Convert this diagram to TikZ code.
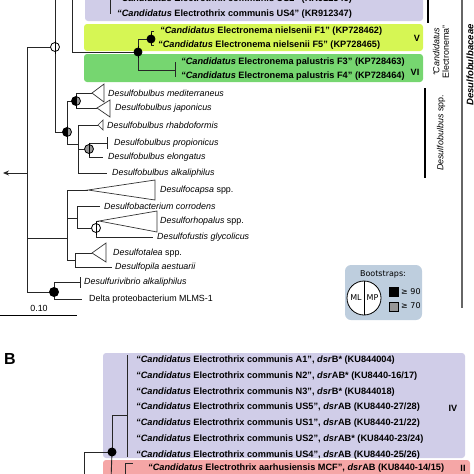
\documentclass[tikz,border=0pt]{standalone}
\usepackage{fontspec}
\setmainfont{Liberation Sans}
\newfontfamily\legendfont{DejaVu Sans}
\usetikzlibrary{arrows.meta}

\definecolor{elpurple}{RGB}{208,205,232}
\definecolor{nemaV}{RGB}{214,246,84}
\definecolor{nemaVI}{RGB}{118,214,112}
\definecolor{aarpink}{RGB}{245,166,166}
\definecolor{legblue}{RGB}{190,206,222}
\definecolor{bootgrey}{RGB}{150,150,150}

% split bootstrap circle: [radius]{coordinate}{ML fill}{MP fill}
\newcommand{\bootnode}[4][4.5]{%
  \fill[#3] (#2) -- ++(0,#1) arc[start angle=90,end angle=270,radius=#1] -- cycle;
  \fill[#4] (#2) -- ++(0,#1) arc[start angle=90,end angle=-90,radius=#1] -- cycle;
  \draw[line width=0.8pt] (#2) circle[radius=#1];
  \draw[line width=0.8pt] (#2) ++(0,-#1-2) -- ++(0,2*#1+4);
}
\newcommand{\cand}{\textit{“Candidatus}}

\begin{document}
\begin{tikzpicture}[x=1pt,y=-1pt,
    branch/.style={line width=0.9pt,draw=black!85},
    collapsed/.style={line width=0.7pt,draw=black!80},
    taxon/.style={anchor=west,inner sep=0pt,font=\fontsize{8.9}{10}\selectfont\itshape},
    strain/.style={anchor=west,inner sep=0pt,font=\fontsize{9.2}{10}\selectfont\bfseries},
    clade/.style={inner sep=0pt,font=\fontsize{9.1}{10}\selectfont\bfseries},
    bracket/.style={line width=2pt}]
  \useasboundingbox (0,0) rectangle (474,474);
  \clip (0,0) rectangle (474,474);

  \fill[elpurple,rounded corners=3pt] (85,-10) rectangle (423,21);
  \fill[nemaV,rounded corners=3pt] (84,24) rectangle (423,51);
  \fill[nemaVI,rounded corners=3pt] (84,54) rectangle (423,82);

  \node (us2) [strain] at (117,-1) {\cand{} Electrothrix communis US2” (KR912346)};
  \node (us4) [strain] at (117,14) {\cand{} Electrothrix communis US4” (KR912347)};
  \node (f1) [strain] at (160,31) {\cand{} Electronema nielsenii F1” (KP728462)};
  \node (f5) [strain] at (158,45) {\cand{} Electronema nielsenii F5” (KP728465)};
  \node (f3) [strain] at (181,62) {\cand{} Electronema palustris F3” (KP728463)};
  \node (f4) [strain] at (181,76) {\cand{} Electronema palustris F4” (KP728464)};
  \node (cV) [clade] at (417,38) {V};
  \node (cVI) [clade] at (415,72) {VI};

  \node (med) [taxon] at (108,93) {Desulfobulbus mediterraneus};
  \node (jap) [taxon] at (115,108) {Desulfobulbus japonicus};
  \node (rha) [taxon] at (107,125) {Desulfobulbus rhabdoformis};
  \node (pro) [taxon] at (114,143) {Desulfobulbus propionicus};
  \node (elo) [taxon] at (108,157) {Desulfobulbus elongatus};
  \node (alk) [taxon] at (112,173) {Desulfobulbus alkaliphilus};
  \node (cap) [taxon] at (160,190) {Desulfocapsa \upshape spp.};
  \node (cor) [taxon] at (104,206) {Desulfobacterium corrodens};
  \node (rho) [taxon] at (160,221) {Desulforhopalus \upshape spp.};
  \node (fus) [taxon] at (157,237) {Desulfofustis glycolicus};
  \node (tal) [taxon] at (113,253) {Desulfotalea \upshape spp.};
  \node (pil) [taxon] at (115,267) {Desulfopila aestuarii};
  \node (viv) [taxon] at (84,282) {Desulfurivibrio alkaliphilus};
  \node (mlms) [taxon,font=\fontsize{8.9}{10}\selectfont] at (89,299) {Delta proteobacterium MLMS-1};

  \coordinate (root) at (27,173);
  \coordinate (out) at (3,173);
  \coordinate (nA) at (55,47);
  \coordinate (nTop) at (72,-5);
  \coordinate (nE) at (138,52);
  \coordinate (nF) at (151,39);
  \coordinate (palT) at (175,70);
  \coordinate (nDb) at (67,132);
  \coordinate (nMJ) at (76,101);
  \coordinate (medA) at (92,93);
  \coordinate (japA) at (97,108);
  \coordinate (nRA) at (78,144);
  \coordinate (rhaA) at (98,125);
  \coordinate (nPE) at (89,149);
  \coordinate (proT) at (107,143);
  \coordinate (eloT) at (103,157);
  \coordinate (alkT) at (107,173);
  \coordinate (nCa) at (67,238);
  \coordinate (capA) at (88,190);
  \coordinate (nCR) at (77,218);
  \coordinate (corT) at (100,206);
  \coordinate (nRF) at (96,228);
  \coordinate (rhoA) at (99,221);
  \coordinate (fusT) at (153,237);
  \coordinate (nTP) at (75,260);
  \coordinate (talA) at (92,253);
  \coordinate (pilT) at (112,267);
  \coordinate (nDv) at (54,292);
  \coordinate (vivT) at (80,282);
  \coordinate (mlmsT) at (82,299);

  \draw[branch,-{Stealth[length=6pt,width=5pt]}] (root) -- (out);
  \draw[branch] (root) |- (nA);
  \draw[branch] (root) |- (nCa);
  \draw[branch] (root) |- (nDv);
  \draw[branch] (nA) -- (55,-5);
  \draw[branch] (nA) |- (nDb);
  \draw[branch] (110,-5) -- (110,14);
  \draw[branch] (nTop) |- (nE);
  \draw[branch] (nE) |- (nF);
  \draw[branch] (nE) |- (palT);
  \draw[branch] (154,31) -- (151,31) -- (151,45) -- (154,45);
  \draw[branch] (175,62) -- (175,77);

  \draw[branch] (nDb) |- (nMJ);
  \draw[branch] (nDb) |- (nRA);
  \draw[branch] (nMJ) |- (medA);
  \draw[branch] (nMJ) |- (japA);
  \draw[branch] (nRA) |- (rhaA);
  \draw[branch] (nRA) |- (nPE);
  \draw[branch] (nRA) |- (alkT);
  \draw[branch] (nPE) |- (proT);
  \draw[branch] (nPE) |- (eloT);
  \draw[branch] (107,137) -- (107,149);
  \draw[collapsed] (medA) -- (104,84) -- (104,102) -- cycle;
  \draw[collapsed] (japA) -- (110,100) -- (110,117) -- cycle;
  \draw[collapsed] (rhaA) -- (103,120) -- (103,130) -- cycle;

  \draw[branch] (nCa) |- (capA);
  \draw[branch] (nCa) |- (nCR);
  \draw[branch] (nCa) |- (nTP);
  \draw[branch] (nCR) |- (corT);
  \draw[branch] (nCR) |- (nRF);
  \draw[branch] (nRF) |- (rhoA);
  \draw[branch] (nRF) |- (fusT);
  \draw[branch] (nTP) |- (talA);
  \draw[branch] (nTP) |- (pilT);
  \draw[collapsed] (capA) -- (155,180) -- (155,200) -- cycle;
  \draw[collapsed] (rhoA) -- (157,211) -- (157,232) -- cycle;
  \draw[collapsed] (talA) -- (106,243) -- (106,262) -- cycle;

  \draw[branch] (nDv) |- (vivT);
  \draw[branch] (nDv) |- (mlmsT);
  \draw[branch] (80,277) -- (80,288);

  \bootnode{nA}{white}{white}
  \bootnode[4]{nE}{black}{black}
  \bootnode[4]{nF}{black}{black}
  \bootnode{nDb}{black}{bootgrey}
  \bootnode{nMJ}{black}{bootgrey}
  \bootnode{nPE}{bootgrey}{bootgrey}
  \bootnode{nRF}{white}{white}
  \fill (nDv) circle[radius=5];

  \draw[line width=0.9pt] (0,315) -- (77,315);
  \node[inner sep=0pt,font=\fontsize{8.9}{10}\selectfont] at (39,308) {0.10};

  \draw[bracket] (428,-5) -- (428,23);
  \draw[bracket] (425,88) -- (425,178);
  \draw[line width=1.5pt,black!60] (462,-5) -- (462,308);
  \node[rotate=90,align=center,inner sep=0pt,font=\fontsize{8.9}{9.5}\selectfont] at (441,52)
    {\textit{“Candidatus}\\Electronema”};
  \node[rotate=90,inner sep=0pt,font=\fontsize{8.9}{10}\selectfont] at (441,133)
    {\textit{Desulfobulbus} spp.};
  \node[rotate=90,inner sep=0pt,font=\fontsize{9.5}{10}\selectfont\bfseries\itshape] at (470,65)
    {Desulfobulbaceae};

  \fill[legblue,rounded corners=6pt] (345,265) rectangle (422,320);
  \node (boot) [inner sep=0pt,font=\legendfont\fontsize{8}{9}\selectfont] at (383,274) {Bootstraps:};
  \coordinate (legc) at (364,298);
  \draw[fill=white,line width=0.8pt] (legc) circle[radius=17];
  \draw[line width=0.8pt] (364,281) -- (364,315);
  \node[inner sep=0pt,font=\legendfont\fontsize{8}{9}\selectfont] at (356,298) {ML};
  \node[inner sep=0pt,font=\legendfont\fontsize{8}{9}\selectfont] at (372.5,298) {MP};
  \draw[fill=black] (389,287) rectangle (398,296);
  \draw[fill=bootgrey] (389,302) rectangle (398,311);
  \node[anchor=west,inner sep=0pt,font=\legendfont\fontsize{8}{9}\selectfont] at (401,292) {≥ 90};
  \node[anchor=west,inner sep=0pt,font=\legendfont\fontsize{8}{9}\selectfont] at (401,306) {≥ 70};

  \node (panelB) [inner sep=0pt,font=\fontsize{16}{16}\selectfont\bfseries] at (10,359) {B};
  \fill[elpurple,rounded corners=3pt] (103,353) rectangle (465,458);
  \fill[aarpink,rounded corners=3pt] (103,460) rectangle (470,480);
  \foreach \st/\gn/\ac [count=\i] in {A1/B*/KU844004, N2/AB*/{KU8440-16/17}, N3/B*/KU844018,
      US5/AB/{KU8440-27/28}, US1/AB/{KU8440-21/22}, US2/AB*/{KU8440-23/24}, US4/AB/{KU8440-25/26}}
    \node (b\i) [strain] at (136,344.15+15.85*\i) {\cand{} Electrothrix communis \st”, \textit{dsr}\gn{} (\ac)};
  \node (mcf) [strain] at (148,468) {\cand{} Electrothrix aarhusiensis MCF”, \textit{dsr}AB (KU8440-14/15)};
  \node (cIV) [clade] at (453,408) {IV};
  \node (cII) [clade] at (463,468) {II};

  \coordinate (bIV) at (127,415);
  \coordinate (nB1) at (112,452);
  \coordinate (bRoot) at (84,480);
  \draw[branch] (127,355) -- (127,457);
  \draw[branch] (nB1) |- (bIV);
  \draw[branch] (bRoot) |- (nB1);
  \draw[branch] (nB1) -- (111,480);
  \draw[branch] (125,480) -- (125,463) -- (133,463);
  \fill (nB1) circle[radius=4.5];
\end{tikzpicture}
\end{document}
